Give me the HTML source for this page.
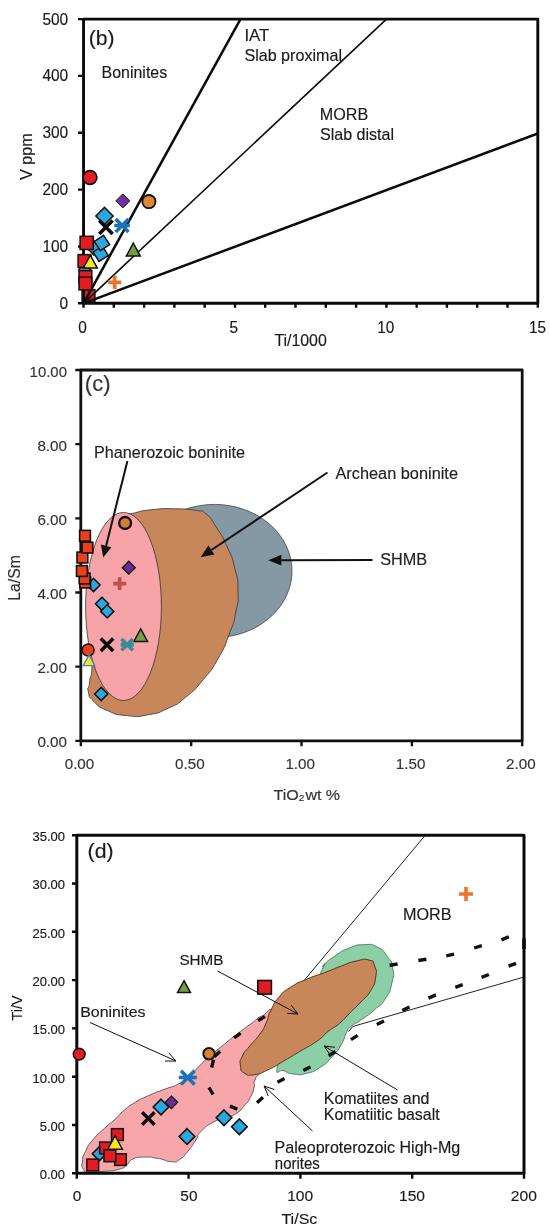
<!DOCTYPE html>
<html lang="en"><head><meta charset="utf-8"><title>Figure</title>
<style>html,body{margin:0;padding:0;background:#fff}svg{display:block}text{font-family:"Liberation Sans", sans-serif}</style></head><body>
<svg width="550" height="1231" viewBox="0 0 550 1231">
<rect width="550" height="1231" fill="#fff"/>
<g id="panel-b">
<rect x="82.1" y="289.6" width="12.8" height="12.8" fill="#e31b23" stroke="#111" stroke-width="1.5"/>
<g stroke="#0a0a0a" fill="none" stroke-linecap="butt">
<line x1="83.55" y1="303.3" x2="240.5" y2="19.1" stroke-width="2.5"/>
<line x1="83.55" y1="303.3" x2="386.5" y2="19.1" stroke-width="1.6"/>
<line x1="83.55" y1="303.3" x2="537.8" y2="133.5" stroke-width="2.5"/>
</g>
<rect x="83.55" y="19.1" width="454.24999999999994" height="284.2" fill="none" stroke="#0a0a0a" stroke-width="2.9" stroke-linejoin="round"/>
<path d="M78.05,303.3H83.55M78.05,246.5H83.55M78.05,189.6H83.55M78.05,132.8H83.55M78.05,75.9H83.55M78.05,19.1H83.55M83.5,303.3V307.8M113.8,303.3V307.8M144.1,303.3V307.8M174.4,303.3V307.8M204.7,303.3V307.8M235.0,303.3V307.8M265.2,303.3V307.8M295.5,303.3V307.8M325.8,303.3V307.8M356.1,303.3V307.8M386.4,303.3V307.8M416.7,303.3V307.8M446.9,303.3V307.8M477.2,303.3V307.8M507.5,303.3V307.8M537.8,303.3V307.8" stroke="#0a0a0a" stroke-width="2.4" fill="none"/>
<text x="59.6" y="308.8" font-size="16" text-anchor="start" fill="#1a1a1a" stroke="#1a1a1a" stroke-width="0.15" textLength="8.6" lengthAdjust="spacingAndGlyphs">0</text>
<text x="42.400000000000006" y="251.96" font-size="16" text-anchor="start" fill="#1a1a1a" stroke="#1a1a1a" stroke-width="0.15" textLength="25.8" lengthAdjust="spacingAndGlyphs">100</text>
<text x="42.400000000000006" y="195.12" font-size="16" text-anchor="start" fill="#1a1a1a" stroke="#1a1a1a" stroke-width="0.15" textLength="25.8" lengthAdjust="spacingAndGlyphs">200</text>
<text x="42.400000000000006" y="138.28" font-size="16" text-anchor="start" fill="#1a1a1a" stroke="#1a1a1a" stroke-width="0.15" textLength="25.8" lengthAdjust="spacingAndGlyphs">300</text>
<text x="42.400000000000006" y="81.44" font-size="16" text-anchor="start" fill="#1a1a1a" stroke="#1a1a1a" stroke-width="0.15" textLength="25.8" lengthAdjust="spacingAndGlyphs">400</text>
<text x="42.400000000000006" y="24.600000000000023" font-size="16" text-anchor="start" fill="#1a1a1a" stroke="#1a1a1a" stroke-width="0.15" textLength="25.8" lengthAdjust="spacingAndGlyphs">500</text>
<text x="78.2" y="332.7" font-size="16" text-anchor="start" fill="#1a1a1a" stroke="#1a1a1a" stroke-width="0.15" textLength="8.6" lengthAdjust="spacingAndGlyphs">0</text>
<text x="229.5" y="332.7" font-size="16" text-anchor="start" fill="#1a1a1a" stroke="#1a1a1a" stroke-width="0.15" textLength="8.6" lengthAdjust="spacingAndGlyphs">5</text>
<text x="377.3" y="332.7" font-size="16" text-anchor="start" fill="#1a1a1a" stroke="#1a1a1a" stroke-width="0.15" textLength="17" lengthAdjust="spacingAndGlyphs">10</text>
<text x="528.9" y="332.7" font-size="16" text-anchor="start" fill="#1a1a1a" stroke="#1a1a1a" stroke-width="0.15" textLength="17" lengthAdjust="spacingAndGlyphs">15</text>
<text x="274.4" y="345.9" font-size="16" text-anchor="start" fill="#1a1a1a" stroke="#1a1a1a" stroke-width="0.15" textLength="52.4" lengthAdjust="spacingAndGlyphs">Ti/1000</text>
<text transform="translate(32 156.6) rotate(-90)" font-size="16" text-anchor="middle" fill="#1a1a1a" stroke="#1a1a1a" stroke-width="0.15" textLength="47" lengthAdjust="spacingAndGlyphs">V ppm</text>
<text x="88.8" y="44.8" font-size="20.4" text-anchor="start" fill="#1a1a1a" stroke="#1a1a1a" stroke-width="0.15" textLength="25.8" lengthAdjust="spacingAndGlyphs">(b)</text>
<text x="101.6" y="78.2" font-size="15.6" text-anchor="start" fill="#1a1a1a" stroke="#1a1a1a" stroke-width="0.15" textLength="65.6" lengthAdjust="spacingAndGlyphs">Boninites</text>
<text x="244.4" y="41.2" font-size="15.7" text-anchor="start" fill="#1a1a1a" stroke="#1a1a1a" stroke-width="0.15" textLength="25" lengthAdjust="spacingAndGlyphs">IAT</text>
<text x="244.4" y="60.6" font-size="15.7" text-anchor="start" fill="#1a1a1a" stroke="#1a1a1a" stroke-width="0.15" textLength="97.6" lengthAdjust="spacingAndGlyphs">Slab proximal</text>
<text x="319.8" y="120.4" font-size="15.7" text-anchor="start" fill="#1a1a1a" stroke="#1a1a1a" stroke-width="0.15" textLength="48.4" lengthAdjust="spacingAndGlyphs">MORB</text>
<text x="320" y="140.2" font-size="15.7" text-anchor="start" fill="#1a1a1a" stroke="#1a1a1a" stroke-width="0.15" textLength="74" lengthAdjust="spacingAndGlyphs">Slab distal</text>
<polygon points="94,241 101,248 94,255 87,248" fill="#2aa7df" stroke="#111" stroke-width="1.5" stroke-linejoin="miter"/>
<polygon points="84.7,263.6 90.7,269.6 84.7,275.6 78.7,269.6" fill="#2aa7df" stroke="#111" stroke-width="1.5" stroke-linejoin="miter"/>
<rect x="79.0" y="270.6" width="12.8" height="12.8" fill="#e31b23" stroke="#111" stroke-width="1.5"/>
<rect x="79.0" y="277.1" width="12.8" height="12.8" fill="#e31b23" stroke="#111" stroke-width="1.5"/>
<rect x="78.1" y="254.6" width="12.8" height="12.8" fill="#e31b23" stroke="#111" stroke-width="1.5"/>
<polygon points="100.7,246.0 108.5,253.8 100.7,261.6 92.9,253.8" fill="#2aa7df" stroke="#111" stroke-width="1.5" stroke-linejoin="miter" transform="rotate(12 100.7 253.8)"/>
<polygon points="102,235.2 109.8,243 102,250.8 94.2,243" fill="#2aa7df" stroke="#111" stroke-width="1.5" stroke-linejoin="miter" transform="rotate(12 102 243)"/>
<rect x="80.1" y="236.3" width="13.2" height="13.2" fill="#e31b23" stroke="#111" stroke-width="1.5"/>
<polygon points="90.3,255.1 97.3,268.1 83.3,268.1" fill="#f6e71a" stroke="#111" stroke-width="1.5" stroke-linejoin="miter"/>
<polygon points="104.5,207.4 113.1,216 104.5,224.6 95.9,216" fill="#2aa7df" stroke="#111" stroke-width="1.5" stroke-linejoin="miter"/>
<path d="M99.2,220.60000000000002L112.60000000000001,234.0M99.2,234.0L112.60000000000001,220.60000000000002" stroke="#0a0a0a" stroke-width="3.5" fill="none"/>
<path d="M115.69999999999999,219.1L128.5,231.9M115.69999999999999,231.9L128.5,219.1M114.3,225.5L129.9,225.5" stroke="#1b72b8" stroke-width="3.5" fill="none"/>
<polygon points="122.8,193.9 129.8,200.9 122.8,207.9 115.8,200.9" fill="#7030a0" stroke="#111" stroke-width="1" stroke-linejoin="miter"/>
<circle cx="148.9" cy="201.6" r="6.6" fill="#e0892f" stroke="#111" stroke-width="1.8"/>
<circle cx="90" cy="177.5" r="6.9" fill="#e31b23" stroke="#111" stroke-width="1.6"/>
<polygon points="133.3,243.1 140.3,256.1 126.3,256.1" fill="#76a03f" stroke="#111" stroke-width="1.5" stroke-linejoin="miter"/>
<path d="M108.10000000000001,282.3L121.3,282.3M114.7,275.7L114.7,288.90000000000003" stroke="#e8772e" stroke-width="3.8" fill="none"/>
</g>
<g id="panel-c">
<ellipse cx="214.5" cy="571" rx="77.5" ry="66.6" fill="#8599a4" stroke="#444" stroke-width="0.8"/>
<path d="M135.5,512.7C145.1,510.2 139.8,510.9 152.9,509.6C166.0,508.3 160.2,508.5 174.7,508.8C189.2,509.1 186.0,508.8 196.5,510.5C207.0,512.2 199.5,508.5 206.1,514.0C212.7,519.5 209.2,516.2 216.2,527.1C223.2,538.0 220.9,532.9 227.1,546.7C233.3,560.5 231.3,553.9 234.9,568.5C238.5,583.1 237.7,575.8 238.0,590.4C238.3,605.0 238.7,597.7 235.8,612.2C232.9,626.7 235.1,618.7 229.3,634.0C223.5,649.3 227.1,642.7 218.4,658.0C209.7,673.3 214.0,666.7 203.1,679.8C192.2,692.9 197.2,687.8 185.6,697.3C174.0,706.8 180.6,702.4 168.2,708.2C155.8,714.0 162.3,712.2 148.5,714.7C134.7,717.2 140.5,717.0 126.7,715.6C112.9,714.2 118.0,715.1 107.1,710.4C96.2,705.7 100.3,707.9 94.0,701.6C87.7,695.3 89.8,698.1 88.3,691.6C86.8,685.1 88.4,692.5 89.6,682.0C90.8,671.5 91.9,680.7 92.0,660.0C92.1,639.3 89.0,650.0 90.0,620.0C91.0,590.0 87.7,600.0 95.0,570.0C102.3,540.0 102.3,547.7 112.0,530.0C121.7,512.3 116.2,522.8 124.0,517.0C131.8,511.2 125.9,515.2 135.5,512.7Z" fill="#c8875a" stroke="#333" stroke-width="0.8"/>
<ellipse cx="123.5" cy="606.5" rx="37.9" ry="94" fill="#f7a3a8" stroke="#333" stroke-width="0.8"/>
<rect x="80.8" y="370" width="441.40000000000003" height="370.79999999999995" fill="none" stroke="#111" stroke-width="2.8" stroke-linejoin="round"/>
<path d="M75.3,740.8H80.8M75.3,666.6H80.8M75.3,592.5H80.8M75.3,518.3H80.8M75.3,444.2H80.8M75.3,370.0H80.8M80.8,740.8V746.3M191.2,740.8V746.3M301.5,740.8V746.3M411.9,740.8V746.3M522.2,740.8V746.3" stroke="#111" stroke-width="2.3" fill="none"/>
<text x="37.4" y="747.0999999999999" font-size="15" text-anchor="start" fill="#333" stroke="#333" stroke-width="0.15" textLength="29.6" lengthAdjust="spacingAndGlyphs">0.00</text>
<text x="37.4" y="673.0999999999999" font-size="15" text-anchor="start" fill="#333" stroke="#333" stroke-width="0.15" textLength="29.6" lengthAdjust="spacingAndGlyphs">2.00</text>
<text x="37.4" y="599.1" font-size="15" text-anchor="start" fill="#333" stroke="#333" stroke-width="0.15" textLength="29.6" lengthAdjust="spacingAndGlyphs">4.00</text>
<text x="37.4" y="525.0999999999999" font-size="15" text-anchor="start" fill="#333" stroke="#333" stroke-width="0.15" textLength="29.6" lengthAdjust="spacingAndGlyphs">6.00</text>
<text x="37.4" y="451.09999999999997" font-size="15" text-anchor="start" fill="#333" stroke="#333" stroke-width="0.15" textLength="29.6" lengthAdjust="spacingAndGlyphs">8.00</text>
<text x="29.6" y="377.1" font-size="15" text-anchor="start" fill="#333" stroke="#333" stroke-width="0.15" textLength="37.4" lengthAdjust="spacingAndGlyphs">10.00</text>
<text x="64.7" y="768.7" font-size="15" text-anchor="start" fill="#333" stroke="#333" stroke-width="0.15" textLength="29.6" lengthAdjust="spacingAndGlyphs">0.00</text>
<text x="175.04999999999998" y="768.7" font-size="15" text-anchor="start" fill="#333" stroke="#333" stroke-width="0.15" textLength="29.6" lengthAdjust="spacingAndGlyphs">0.50</text>
<text x="285.4" y="768.7" font-size="15" text-anchor="start" fill="#333" stroke="#333" stroke-width="0.15" textLength="29.6" lengthAdjust="spacingAndGlyphs">1.00</text>
<text x="395.75" y="768.7" font-size="15" text-anchor="start" fill="#333" stroke="#333" stroke-width="0.15" textLength="29.6" lengthAdjust="spacingAndGlyphs">1.50</text>
<text x="506.1000000000001" y="768.7" font-size="15" text-anchor="start" fill="#333" stroke="#333" stroke-width="0.15" textLength="29.6" lengthAdjust="spacingAndGlyphs">2.00</text>
<text x="273.6" y="800.4" font-size="15.2" text-anchor="start" fill="#333" stroke="#333" stroke-width="0.15" textLength="66.5" lengthAdjust="spacingAndGlyphs">TiO<tspan font-size="9.5" dy="1">2</tspan><tspan dy="-1" dx="1">wt %</tspan></text>
<text transform="translate(20.3 578) rotate(-90)" font-size="16" text-anchor="middle" fill="#333" stroke="#333" stroke-width="0.15" textLength="45.5" lengthAdjust="spacingAndGlyphs">La/Sm</text>
<text x="84.8" y="390.8" font-size="21.8" text-anchor="start" fill="#333" stroke="#333" stroke-width="0.15" textLength="25.8" lengthAdjust="spacingAndGlyphs">(c)</text>
<text x="94" y="457.6" font-size="16" text-anchor="start" fill="#222" stroke="#222" stroke-width="0.15" textLength="151" lengthAdjust="spacingAndGlyphs">Phanerozoic boninite</text>
<text x="335.4" y="479.2" font-size="16" text-anchor="start" fill="#222" stroke="#222" stroke-width="0.15" textLength="122.6" lengthAdjust="spacingAndGlyphs">Archean boninite</text>
<text x="380.2" y="564.6" font-size="16" text-anchor="start" fill="#222" stroke="#222" stroke-width="0.15" textLength="47" lengthAdjust="spacingAndGlyphs">SHMB</text>
<line x1="127.4" y1="461" x2="106.1" y2="545.9" stroke="#111" stroke-width="2"/>
<polygon points="103.2,557.5 100.9,544.5 111.4,547.2" fill="#111"/>
<line x1="327.5" y1="472.5" x2="211.4" y2="550.0" stroke="#111" stroke-width="2"/>
<polygon points="200.6,557.2 208.4,545.5 214.4,554.5" fill="#111"/>
<line x1="372.5" y1="560" x2="281.3" y2="560.2" stroke="#111" stroke-width="2"/>
<polygon points="268.3,560.2 281.3,554.8 281.3,565.6" fill="#111"/>
<polygon points="93.5,578.4 100.1,585 93.5,591.6 86.9,585" fill="#2aa7df" stroke="#111" stroke-width="1.5" stroke-linejoin="miter"/>
<rect x="79.8" y="577.1" width="10.8" height="10.8" fill="#e8401f" stroke="#111" stroke-width="1.6"/>
<rect x="79.2" y="573.1" width="10.8" height="10.8" fill="#e8401f" stroke="#111" stroke-width="1.6"/>
<rect x="76.5" y="565.6" width="10.8" height="10.8" fill="#e8401f" stroke="#111" stroke-width="1.6"/>
<rect x="77.0" y="552.1" width="10.8" height="10.8" fill="#e8401f" stroke="#111" stroke-width="1.6"/>
<rect x="82.0" y="542.2" width="10.8" height="10.8" fill="#e8401f" stroke="#111" stroke-width="1.6"/>
<rect x="79.6" y="530.4" width="10.8" height="10.8" fill="#e8401f" stroke="#111" stroke-width="1.6"/>
<circle cx="125.1" cy="523" r="6" fill="#d07f36" stroke="#111" stroke-width="2.3"/>
<polygon points="128.8,561.2 135.3,567.7 128.8,574.2 122.30000000000001,567.7" fill="#6a2d91" stroke="#111" stroke-width="1.3" stroke-linejoin="miter"/>
<path d="M113.3,583.6L126.10000000000001,583.6M119.7,577.2L119.7,590.0" stroke="#c0504d" stroke-width="3.7" fill="none"/>
<polygon points="102,597.1999999999999 108.6,603.8 102,610.4 95.4,603.8" fill="#2aa7df" stroke="#111" stroke-width="1.5" stroke-linejoin="miter"/>
<polygon points="107.2,604.8 113.8,611.4 107.2,618.0 100.60000000000001,611.4" fill="#2aa7df" stroke="#111" stroke-width="1.5" stroke-linejoin="miter"/>
<polygon points="140.7,628.8 147.5,641.4 133.9,641.4" fill="#76a03f" stroke="#111" stroke-width="1.5" stroke-linejoin="miter"/>
<path d="M100.8,638.5999999999999L113.2,651.0M100.8,651.0L113.2,638.5999999999999" stroke="#0a0a0a" stroke-width="3.6" fill="none"/>
<path d="M121.5,638.9L132.9,650.3000000000001M121.5,650.3000000000001L132.9,638.9M120.6,644.6L133.8,644.6" stroke="#3b8a98" stroke-width="3.6" fill="none"/>
<circle cx="88.1" cy="650" r="6" fill="#e8401f" stroke="#111" stroke-width="1.5"/>
<polygon points="89,654.9 94.8,665.6 83.2,665.6" fill="#f6e71a" stroke="#4a7fc0" stroke-width="1.3" stroke-linejoin="miter"/>
<polygon points="101.2,687.4 107.8,694 101.2,700.6 94.60000000000001,694" fill="#2aa7df" stroke="#111" stroke-width="1.5" stroke-linejoin="miter"/>
</g>
<g id="panel-d">
<line x1="262" y1="1031" x2="425" y2="835.5" stroke="#222" stroke-width="1"/>
<polyline points="348.5,1031.5 352.7,1026.5 524,977" fill="none" stroke="#222" stroke-width="1"/>
<path d="M83.4,1169.3C81.0,1165.5 81.8,1167.1 82.5,1161.1C83.2,1155.1 82.0,1158.4 85.5,1151.3C89.0,1144.2 86.6,1147.4 92.9,1139.8C99.2,1132.2 96.8,1135.5 104.4,1128.4C112.0,1121.3 109.3,1124.5 115.8,1118.5C122.3,1112.5 117.5,1115.8 124.0,1110.4C130.5,1105.0 127.2,1107.1 135.4,1102.2C143.6,1097.3 138.7,1100.0 148.5,1095.6C158.3,1091.2 155.1,1092.9 164.9,1089.1C174.7,1085.3 170.4,1088.0 178.0,1084.2C185.6,1080.4 181.3,1083.1 187.8,1077.6C194.3,1072.1 191.1,1074.3 197.6,1067.8C204.1,1061.3 200.5,1064.3 207.4,1058.0C214.3,1051.7 211.1,1054.9 218.4,1049.0C225.7,1043.1 221.9,1046.1 229.3,1040.2C236.7,1034.3 232.9,1037.1 240.5,1031.4C248.1,1025.7 244.8,1028.1 252.0,1023.0C259.2,1017.9 254.3,1019.3 262.0,1016.0C269.7,1012.7 267.3,1005.0 275.0,1013.0C282.7,1021.0 289.3,1021.0 285.0,1040.0C280.7,1059.0 272.0,1056.7 262.0,1070.0C252.0,1083.3 257.7,1074.0 255.0,1080.0C252.3,1086.0 255.7,1082.0 254.0,1088.0C252.3,1094.0 253.3,1092.0 250.0,1098.0C246.7,1104.0 248.3,1101.0 244.0,1106.0C239.7,1111.0 243.0,1109.0 237.0,1113.0C231.0,1117.0 233.7,1115.1 226.0,1118.0C218.3,1120.9 222.4,1117.3 214.0,1121.8C205.6,1126.3 206.9,1125.6 200.9,1131.6C194.9,1137.6 200.4,1133.2 196.0,1139.8C191.6,1146.4 193.3,1144.8 187.8,1151.3C182.3,1157.8 185.1,1155.9 179.6,1159.4C174.1,1162.9 178.5,1162.0 171.4,1161.7C164.3,1161.4 167.7,1160.0 158.4,1158.5C149.1,1157.0 152.3,1156.8 143.6,1157.1C134.9,1157.4 137.6,1156.9 132.2,1159.4C126.8,1161.9 131.7,1161.2 127.3,1164.5C122.9,1167.8 127.2,1167.0 119.0,1169.3C110.8,1171.6 112.5,1170.4 102.7,1171.4C92.9,1172.4 96.0,1173.1 89.6,1172.4C83.2,1171.7 85.8,1173.1 83.4,1169.3Z" fill="#f7a6a9" stroke="#444" stroke-width="0.8"/>
<path d="M320.0,974.2C331.1,952.9 318.4,972.0 323.3,966.0C328.2,960.0 326.0,962.2 334.7,956.2C343.4,950.2 339.6,951.8 349.4,948.0C359.2,944.2 354.9,945.0 364.2,944.7C373.5,944.4 369.7,943.2 377.3,947.0C384.9,950.8 382.0,949.3 387.1,956.2C392.2,963.1 391.0,958.9 392.6,967.6C394.2,976.3 394.4,972.0 392.0,982.4C389.6,992.8 391.4,989.4 385.4,998.7C379.4,1008.0 382.2,1003.1 374.0,1010.2C365.8,1017.3 368.5,1014.6 360.9,1020.0C353.3,1025.4 356.0,1022.1 351.1,1026.5C346.2,1030.9 349.5,1027.1 346.2,1033.1C342.9,1039.1 346.2,1036.3 341.3,1044.5C336.4,1052.7 338.5,1050.0 331.4,1057.6C324.3,1065.2 328.2,1062.2 320.0,1067.4C311.8,1072.6 315.6,1071.1 306.9,1073.3C298.2,1075.5 301.4,1074.9 293.8,1074.0C286.2,1073.1 289.5,1073.4 284.0,1070.7C278.5,1068.0 275.4,1079.4 277.4,1065.8C279.4,1052.2 275.8,1060.5 290.0,1030.0C304.2,999.5 308.9,995.5 320.0,974.2Z" fill="#8ccfa7" stroke="#3a6a50" stroke-width="0.8"/>
<line x1="389.6" y1="965.2" x2="397.6" y2="964.0" stroke="#111" stroke-width="3.4"/>
<line x1="418.4" y1="960.5" x2="426.4" y2="959.3" stroke="#111" stroke-width="3.4"/>
<line x1="446.3" y1="955.8" x2="454.1" y2="954.2" stroke="#111" stroke-width="3.4"/>
<line x1="474.2" y1="948.0" x2="481.8" y2="945.6" stroke="#111" stroke-width="3.4"/>
<line x1="501.4" y1="939.9" x2="508.8" y2="936.7" stroke="#111" stroke-width="3.4"/>
<line x1="258.1" y1="1020.8" x2="264.9" y2="1016.4" stroke="#111" stroke-width="3.4"/>
<line x1="234.2" y1="1037.9" x2="240.6" y2="1033.1" stroke="#111" stroke-width="3.4"/>
<line x1="214.2" y1="1056.7" x2="220.2" y2="1051.3" stroke="#111" stroke-width="3.4"/>
<line x1="211.6" y1="1067.5" x2="213.6" y2="1059.7" stroke="#111" stroke-width="3.4"/>
<line x1="209.0" y1="1087.5" x2="213.0" y2="1094.5" stroke="#111" stroke-width="3.4"/>
<line x1="229.9" y1="1106.1" x2="237.3" y2="1109.1" stroke="#111" stroke-width="3.4"/>
<line x1="257.0" y1="1102.7" x2="263.0" y2="1097.3" stroke="#111" stroke-width="3.4"/>
<line x1="277.5" y1="1082.3" x2="284.5" y2="1078.5" stroke="#111" stroke-width="3.4"/>
<line x1="303.3" y1="1070.4" x2="310.5" y2="1066.8" stroke="#111" stroke-width="3.4"/>
<line x1="328.7" y1="1055.7" x2="335.5" y2="1051.5" stroke="#111" stroke-width="3.4"/>
<line x1="350.9" y1="1039.6" x2="357.7" y2="1035.4" stroke="#111" stroke-width="3.4"/>
<line x1="376.8" y1="1024.5" x2="384.0" y2="1020.9" stroke="#111" stroke-width="3.4"/>
<line x1="402.3" y1="1010.6" x2="409.5" y2="1007.0" stroke="#111" stroke-width="3.4"/>
<line x1="428.5" y1="998.1" x2="435.9" y2="994.9" stroke="#111" stroke-width="3.4"/>
<line x1="455.3" y1="987.4" x2="462.7" y2="984.6" stroke="#111" stroke-width="3.4"/>
<line x1="481.5" y1="977.3" x2="488.9" y2="974.5" stroke="#111" stroke-width="3.4"/>
<line x1="508.6" y1="966.2" x2="516.0" y2="963.4" stroke="#111" stroke-width="3.4"/>
<line x1="524" y1="938.5" x2="524" y2="949" stroke="#111" stroke-width="3.6"/>
<path d="M240.5,1065.8C239.7,1060.0 239.4,1062.5 242.4,1056.0C245.4,1049.5 243.9,1053.3 249.6,1046.2C255.3,1039.1 253.9,1042.3 259.4,1034.7C264.9,1027.1 262.2,1031.5 266.0,1023.3C269.8,1015.1 266.5,1018.9 270.9,1010.2C275.3,1001.5 272.6,1004.7 279.1,997.1C285.6,989.5 281.2,993.3 290.5,987.3C299.8,981.3 295.4,984.0 306.9,979.1C318.4,974.2 313.4,976.9 324.9,972.5C336.4,968.1 330.9,969.8 341.3,966.0C351.7,962.2 346.7,963.1 356.0,961.1C365.3,959.1 362.9,958.5 369.1,960.1C375.3,961.7 372.4,960.2 374.6,966.0C376.8,971.8 376.9,969.2 375.6,977.4C374.3,985.6 375.6,982.3 370.7,990.5C365.8,998.7 368.0,994.4 360.9,1002.0C353.8,1009.6 356.5,1006.3 349.4,1013.4C342.3,1020.5 346.7,1017.3 339.6,1023.3C332.5,1029.3 335.8,1025.4 328.2,1031.4C320.6,1037.4 326.0,1034.7 316.7,1041.3C307.4,1047.9 311.3,1044.6 300.4,1051.1C289.5,1057.6 294.9,1054.6 284.0,1060.9C273.1,1067.2 277.4,1065.4 267.6,1070.0C257.8,1074.6 262.1,1073.5 254.5,1074.6C246.9,1075.7 249.4,1076.2 244.7,1073.3C240.0,1070.4 241.3,1071.6 240.5,1065.8Z" fill="#c8875a" stroke="#4a2a10" stroke-width="0.9"/>
<rect x="76.8" y="835.2" width="447.2" height="338.0999999999999" fill="none" stroke="#0a0a0a" stroke-width="3" stroke-linejoin="round"/>
<path d="M72.0,1173.3H76.8M72.0,1125.0H76.8M72.0,1076.7H76.8M72.0,1028.4H76.8M72.0,980.1H76.8M72.0,931.8H76.8M72.0,883.5H76.8M72.0,835.2H76.8M76.8,1173.3V1178.8M188.6,1173.3V1178.8M300.4,1173.3V1178.8M412.2,1173.3V1178.8M524.0,1173.3V1178.8" stroke="#0a0a0a" stroke-width="2.4" fill="none"/>
<text x="39.8" y="1179.1" font-size="12.4" text-anchor="start" fill="#1a1a1a" stroke="#1a1a1a" stroke-width="0.15" textLength="25.2" lengthAdjust="spacingAndGlyphs">0.00</text>
<text x="39.8" y="1130.8" font-size="12.4" text-anchor="start" fill="#1a1a1a" stroke="#1a1a1a" stroke-width="0.15" textLength="25.2" lengthAdjust="spacingAndGlyphs">5.00</text>
<text x="32.5" y="1082.5" font-size="12.4" text-anchor="start" fill="#1a1a1a" stroke="#1a1a1a" stroke-width="0.15" textLength="32.5" lengthAdjust="spacingAndGlyphs">10.00</text>
<text x="32.5" y="1034.2" font-size="12.4" text-anchor="start" fill="#1a1a1a" stroke="#1a1a1a" stroke-width="0.15" textLength="32.5" lengthAdjust="spacingAndGlyphs">15.00</text>
<text x="32.5" y="985.9" font-size="12.4" text-anchor="start" fill="#1a1a1a" stroke="#1a1a1a" stroke-width="0.15" textLength="32.5" lengthAdjust="spacingAndGlyphs">20.00</text>
<text x="32.5" y="937.6" font-size="12.4" text-anchor="start" fill="#1a1a1a" stroke="#1a1a1a" stroke-width="0.15" textLength="32.5" lengthAdjust="spacingAndGlyphs">25.00</text>
<text x="32.5" y="889.3" font-size="12.4" text-anchor="start" fill="#1a1a1a" stroke="#1a1a1a" stroke-width="0.15" textLength="32.5" lengthAdjust="spacingAndGlyphs">30.00</text>
<text x="32.5" y="841.0" font-size="12.4" text-anchor="start" fill="#1a1a1a" stroke="#1a1a1a" stroke-width="0.15" textLength="32.5" lengthAdjust="spacingAndGlyphs">35.00</text>
<text x="72.8" y="1201.3" font-size="15.1" text-anchor="start" fill="#1a1a1a" stroke="#1a1a1a" stroke-width="0.15" textLength="8.6" lengthAdjust="spacingAndGlyphs">0</text>
<text x="180.29999999999998" y="1201.3" font-size="15.1" text-anchor="start" fill="#1a1a1a" stroke="#1a1a1a" stroke-width="0.15" textLength="17.2" lengthAdjust="spacingAndGlyphs">50</text>
<text x="287.2" y="1201.3" font-size="15.1" text-anchor="start" fill="#1a1a1a" stroke="#1a1a1a" stroke-width="0.15" textLength="26" lengthAdjust="spacingAndGlyphs">100</text>
<text x="399.0" y="1201.3" font-size="15.1" text-anchor="start" fill="#1a1a1a" stroke="#1a1a1a" stroke-width="0.15" textLength="26" lengthAdjust="spacingAndGlyphs">150</text>
<text x="510.7999999999999" y="1201.3" font-size="15.1" text-anchor="start" fill="#1a1a1a" stroke="#1a1a1a" stroke-width="0.15" textLength="26" lengthAdjust="spacingAndGlyphs">200</text>
<text x="281.4" y="1223.6" font-size="14.2" text-anchor="start" fill="#1a1a1a" stroke="#1a1a1a" stroke-width="0.15" textLength="36" lengthAdjust="spacingAndGlyphs">Ti/Sc</text>
<text transform="translate(21.5 1008) rotate(-90)" font-size="14" text-anchor="middle" fill="#1a1a1a" stroke="#1a1a1a" stroke-width="0.15" textLength="25" lengthAdjust="spacingAndGlyphs">Ti/V</text>
<text x="87.6" y="857.6" font-size="19.5" text-anchor="start" fill="#1a1a1a" stroke="#1a1a1a" stroke-width="0.15" textLength="26" lengthAdjust="spacingAndGlyphs">(d)</text>
<text x="403" y="919.8" font-size="15.7" text-anchor="start" fill="#1a1a1a" stroke="#1a1a1a" stroke-width="0.15" textLength="48.6" lengthAdjust="spacingAndGlyphs">MORB</text>
<text x="179.4" y="964.6" font-size="15" text-anchor="start" fill="#1a1a1a" stroke="#1a1a1a" stroke-width="0.15" textLength="44" lengthAdjust="spacingAndGlyphs">SHMB</text>
<text x="80.2" y="1017" font-size="15.4" text-anchor="start" fill="#1a1a1a" stroke="#1a1a1a" stroke-width="0.15" textLength="65.4" lengthAdjust="spacingAndGlyphs">Boninites</text>
<text x="323.8" y="1103.6" font-size="15.7" text-anchor="start" fill="#1a1a1a" stroke="#1a1a1a" stroke-width="0.15" textLength="105.6" lengthAdjust="spacingAndGlyphs">Komatiites and</text>
<text x="323.8" y="1120" font-size="15.7" text-anchor="start" fill="#1a1a1a" stroke="#1a1a1a" stroke-width="0.15" textLength="115.8" lengthAdjust="spacingAndGlyphs">Komatiitic basalt</text>
<text x="274.6" y="1152.7" font-size="15.7" text-anchor="start" fill="#1a1a1a" stroke="#1a1a1a" stroke-width="0.15" textLength="185.6" lengthAdjust="spacingAndGlyphs">Paleoproterozoic High-Mg</text>
<text x="274.8" y="1169" font-size="15.7" text-anchor="start" fill="#1a1a1a" stroke="#1a1a1a" stroke-width="0.15" textLength="45" lengthAdjust="spacingAndGlyphs">norites</text>
<path d="M90,1022.5L176,1061M165.0,1061.0L176,1061L168.7,1052.8" fill="none" stroke="#111" stroke-width="1"/>
<path d="M217.5,971L298,1014M287.1,1013.3L298,1014L291.3,1005.3" fill="none" stroke="#111" stroke-width="1"/>
<path d="M397.5,1090L324,1046M334.9,1047.3L324,1046L330.3,1055.0" fill="none" stroke="#111" stroke-width="1"/>
<path d="M312.5,1131L264,1086M274.4,1089.5L264,1086L268.3,1096.1" fill="none" stroke="#111" stroke-width="1"/>
<circle cx="79.2" cy="1054.1" r="5.9" fill="#e31b23" stroke="#111" stroke-width="1.5"/>
<circle cx="209" cy="1053.7" r="5.7" fill="#d9822f" stroke="#111" stroke-width="2"/>
<path d="M181.0,1070.8L194.60000000000002,1084.3999999999999M181.0,1084.3999999999999L194.60000000000002,1070.8M178.8,1077.6L196.8,1077.6" stroke="#1b72b8" stroke-width="3.5" fill="none"/>
<polygon points="161,1099.2 168.8,1107 161,1114.8 153.2,1107" fill="#2aa7df" stroke="#111" stroke-width="1.6" stroke-linejoin="miter"/>
<polygon points="171.4,1096.0 177.70000000000002,1102.3 171.4,1108.6 165.1,1102.3" fill="#6a2d91" stroke="#111" stroke-width="1.2" stroke-linejoin="miter"/>
<path d="M142.10000000000002,1112.3L154.5,1124.7M142.10000000000002,1124.7L154.5,1112.3" stroke="#0a0a0a" stroke-width="3.4" fill="none"/>
<polygon points="224,1110.0 231.8,1117.8 224,1125.6 216.2,1117.8" fill="#2aa7df" stroke="#111" stroke-width="1.6" stroke-linejoin="miter"/>
<polygon points="239.4,1119.0 247.20000000000002,1126.8 239.4,1134.6 231.6,1126.8" fill="#2aa7df" stroke="#111" stroke-width="1.6" stroke-linejoin="miter"/>
<polygon points="187,1128.7 194.8,1136.5 187,1144.3 179.2,1136.5" fill="#2aa7df" stroke="#111" stroke-width="1.6" stroke-linejoin="miter"/>
<polygon points="99.3,1146.8 106.3,1153.8 99.3,1160.8 92.3,1153.8" fill="#2aa7df" stroke="#111" stroke-width="1.6" stroke-linejoin="miter"/>
<rect x="111.5" y="1128.7" width="11.8" height="11.8" fill="#e31b23" stroke="#111" stroke-width="1.5"/>
<rect x="99.6" y="1142.1" width="11.8" height="11.8" fill="#e31b23" stroke="#111" stroke-width="1.5"/>
<rect x="86.8" y="1159.1" width="11.8" height="11.8" fill="#e31b23" stroke="#111" stroke-width="1.5"/>
<rect x="114.7" y="1153.8" width="11.6" height="11.6" fill="#e31b23" stroke="#111" stroke-width="1.5"/>
<rect x="104.0" y="1149.9" width="11.8" height="11.8" fill="#e31b23" stroke="#111" stroke-width="1.5"/>
<polygon points="115.1,1135.7 122.4,1149.2 107.8,1149.2" fill="#f6e71a" stroke="#111" stroke-width="1.5" stroke-linejoin="miter"/>
<polygon points="184,980.7 190.5,992.6 177.5,992.6" fill="#76a03f" stroke="#111" stroke-width="1.5" stroke-linejoin="miter"/>
<rect x="257.8" y="980.5" width="13.6" height="13.6" fill="#e31b23" stroke="#111" stroke-width="1.6"/>
<path d="M459,894L473,894M466,887L466,901" stroke="#e8772e" stroke-width="3.6" fill="none"/>
</g>
</svg></body></html>
